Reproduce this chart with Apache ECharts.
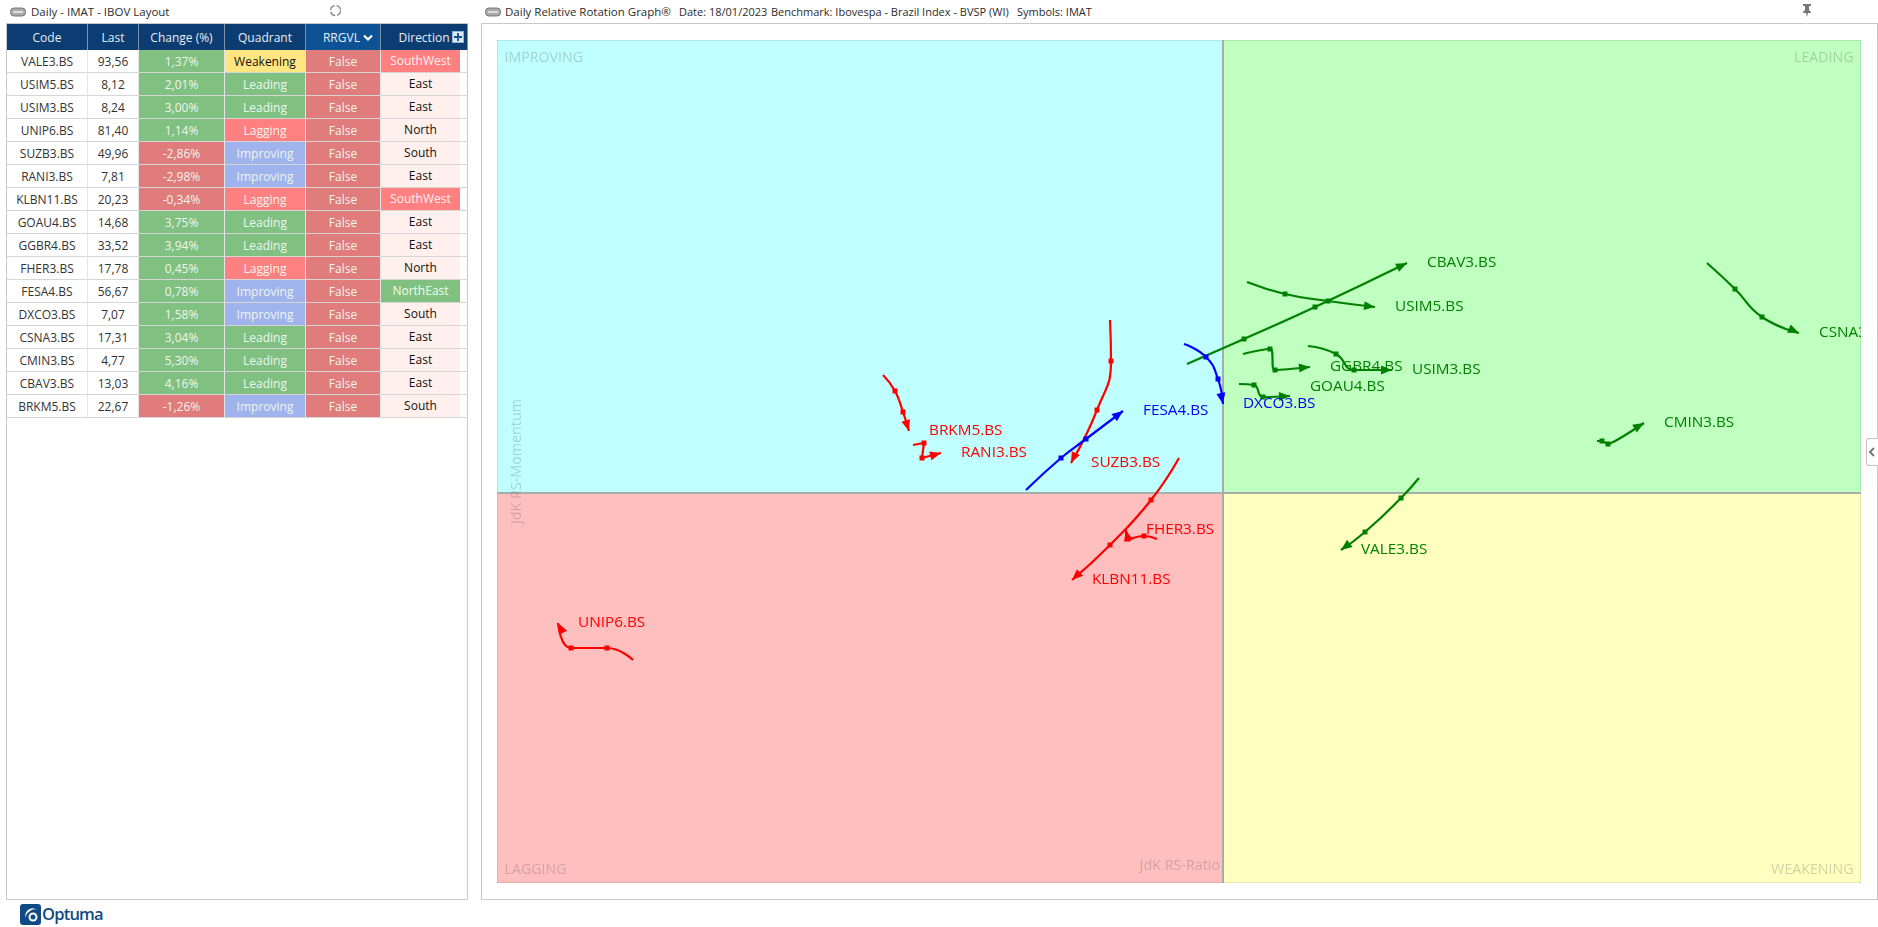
<!DOCTYPE html>
<html>
<head>
<meta charset="utf-8">
<title>Daily Relative Rotation Graph</title>
<script src="https://cdn.jsdelivr.net/npm/echarts@6/dist/echarts.min.js"></script>
<style>
  html, body { margin: 0; padding: 0; background: #fff; width: 1878px; height: 927px; overflow: hidden; font-family: "Open Sans", sans-serif; color: #333; }
  .abs { position: absolute; }
  .title { font-size: 11.5px; line-height: 16px; white-space: pre; color: #2b2b2b; }
  .title.small { font-size: 11px; }
  .panel { border: 1px solid #c9c9c9; box-sizing: border-box; }
  #table { position: absolute; left: 7px; top: 24px; width: 461px; border-collapse: separate; border-spacing: 0; table-layout: fixed; font-size: 12px; }
  #table th { background: #0b3d73; color: #e8eef5; font-weight: 400; height: 26px; padding: 0; border-right: 1px solid #7f93aa; box-sizing: border-box; }
  #table th.sorted { background: #0c5294; padding-left: 10px; }
  #table td { height: 23px; padding: 0; text-align: center; box-sizing: border-box; border-bottom: 1px solid #d5d5d5; border-right: 1px solid #e4e4e4; color: #333; }
  #table td.fill { color: #eef6ee; }
  #table td.dark { color: #111; }
  .dirbox { display: block; width: 79px; height: 22px; line-height: 22px; }
  #chart { position: absolute; left: 497px; top: 40px; width: 1364px; height: 843px; }
</style>
</head>
<body>
<div class="abs panel" style="left:6px;top:23px;width:462px;height:877px"></div>
<div class="abs panel" style="left:481px;top:23px;width:1397px;height:877px"></div>

<svg class="abs" style="left:10px;top:7px" width="16" height="10"><rect x="0.5" y="1" width="15" height="8" rx="3.5" fill="#aaa" stroke="#777"/><line x1="3" y1="5" x2="13" y2="5" stroke="#eee" stroke-width="1.5"/></svg>
<div class="abs title" style="left:31px;top:4px">Daily - IMAT - IBOV Layout</div>
<svg class="abs" style="left:329px;top:4px" width="13" height="13"><circle cx="6.5" cy="6.5" r="5" fill="none" stroke="#888" stroke-width="1.4" stroke-dasharray="6 2"/></svg>

<svg class="abs" style="left:485px;top:7px" width="16" height="10"><rect x="0.5" y="1" width="15" height="8" rx="3.5" fill="#aaa" stroke="#777"/><line x1="3" y1="5" x2="13" y2="5" stroke="#eee" stroke-width="1.5"/></svg>
<div class="abs title" style="left:505px;top:4px">Daily Relative Rotation Graph®</div>
<div class="abs title small" style="left:679px;top:4px">Date: 18/01/2023</div>
<div class="abs title small" style="left:771px;top:4px">Benchmark: Ibovespa - Brazil Index - BVSP (WI)</div>
<div class="abs title small" style="left:1017px;top:4px">Symbols: IMAT</div>
<svg class="abs" style="left:1802px;top:4px" width="10" height="13"><path d="M1 0h8v2H7v4l2 2v1H6l-1 4-1-4H1V8l2-2V2H1z" fill="#777"/></svg>

<table id="table"></table>
<div id="chart"></div>

<div class="abs" style="left:1866px;top:438px;width:12px;height:28px;background:#fff;border:1px solid #c4c4c4;border-right:0;border-radius:3px 0 0 3px;box-sizing:border-box"></div>
<svg class="abs" style="left:1868px;top:447px" width="8" height="10"><path d="M6 1L2 5l4 4" fill="none" stroke="#777" stroke-width="2"/></svg>

<svg class="abs" style="left:20px;top:904px" width="22" height="21"><rect width="21" height="21" rx="3" fill="#0f4a85"/><path d="M6 14a7 7 0 0 1 11-8a6 6 0 0 0-8 2a6 6 0 0 0-3 6z" fill="#fff"/><circle cx="13" cy="13" r="4.5" fill="#fff"/><circle cx="13" cy="13" r="2.5" fill="#0f4a85"/></svg>
<div class="abs" style="left:42px;top:902px;font-size:16.5px;line-height:24px;font-weight:600;letter-spacing:-0.8px;color:#0f4a85">Optuma</div>

<script>
// tabela
const codes = ['VALE3.BS','USIM5.BS','USIM3.BS','UNIP6.BS','SUZB3.BS','RANI3.BS','KLBN11.BS','GOAU4.BS','GGBR4.BS','FHER3.BS','FESA4.BS','DXCO3.BS','CSNA3.BS','CMIN3.BS','CBAV3.BS','BRKM5.BS'];
const lastPrices = ['93,56','8,12','8,24','81,40','49,96','7,81','20,23','14,68','33,52','17,78','56,67','7,07','17,31','4,77','13,03','22,67'];
const changes = ['1,37%','2,01%','3,00%','1,14%','-2,86%','-2,98%','-0,34%','3,75%','3,94%','0,45%','0,78%','1,58%','3,04%','5,30%','4,16%','-1,26%'];
const quadrants = ['Weakening','Leading','Leading','Lagging','Improving','Improving','Lagging','Leading','Leading','Lagging','Improving','Improving','Leading','Leading','Leading','Improving'];
const directions = ['SouthWest','East','East','North','South','East','SouthWest','East','East','North','NorthEast','South','East','East','East','South'];
const headers = ['Code','Last','Change (%)','Quadrant','RRGVL','Direction'];
const colWidths = [81, 51, 86, 81, 75, 87];

// trilhas [JdK RS-Ratio, JdK RS-Momentum]
const trailVALE3 = [[101.96,100.15],[101.78,99.95],[101.42,99.61],[101.18,99.43]];
const trailUSIM5 = [[100.24,102.11],[100.62,101.99],[101.05,101.92],[101.52,101.86]];
const trailUSIM3 = [[100.85,101.47],[101.13,101.39],[101.31,101.23],[101.69,101.23]];
const trailUNIP6 = [[94.10,98.33],[93.84,98.45],[93.48,98.45],[93.35,98.70]];
const trailSUZB3 = [[98.87,101.73],[98.88,101.32],[98.74,100.83],[98.48,100.30]];
const trailRANI3 = [[96.90,100.48],[97.01,100.50],[96.99,100.35],[97.18,100.40]];
const trailKLBN11 = [[99.56,100.35],[99.28,99.93],[98.87,99.48],[98.49,99.13]];
const trailGOAU4 = [[100.16,101.09],[100.31,101.08],[100.40,100.96],[100.67,100.97]];
const trailGGBR4 = [[100.20,101.39],[100.47,101.44],[100.52,101.23],[100.87,101.26]];
const trailFHER3 = [[99.34,99.54],[99.21,99.57],[99.05,99.54],[99.03,99.63]];
const trailFESA4 = [[98.03,100.03],[98.38,100.35],[98.63,100.54],[99.00,100.82]];
const trailDXCO3 = [[99.61,101.49],[99.83,101.36],[99.95,101.14],[100.00,100.89]];
const trailCSNA3 = [[104.84,102.30],[105.12,102.04],[105.39,101.76],[105.76,101.60]];
const trailCMIN3 = [[103.74,100.52],[103.79,100.52],[103.85,100.49],[104.21,100.70]];
const trailCBAV3 = [[99.64,101.29],[100.21,101.54],[100.92,101.86],[101.84,102.30]];
const trailBRKM5 = [[96.60,101.18],[96.72,101.02],[96.80,100.81],[96.86,100.62]];
const trails = [trailVALE3,trailUSIM5,trailUSIM3,trailUNIP6,trailSUZB3,trailRANI3,trailKLBN11,trailGOAU4,trailGGBR4,trailFHER3,trailFESA4,trailDXCO3,trailCSNA3,trailCMIN3,trailCBAV3,trailBRKM5];

const xMin = 92.74, xMax = 106.38, yMin = 96.10, yMax = 104.53, center = 100;
const quadFill = { Leading:'#80c080', Lagging:'#ff8080', Improving:'#9fb3ec', Weakening:'#ffe680' };

// cor da linha no grafico nem sempre bate com o quadrante da tabela
const trailColors = ['#008000','#008000','#008000','#ff0000','#ff0000','#ff0000','#ff0000','#008000','#008000','#ff0000','#0000ff','#0000ff','#008000','#008000','#008000','#ff0000'];

function buildTable() {
    let html = '<colgroup>' + colWidths.map(w => '<col style="width:' + w + 'px">').join('') + '</colgroup><tr>';
    headers.forEach((h, i) => {
        let extra = '';
        if (h === 'RRGVL') extra = ' <svg width="10" height="8"><path d="M1 1.5l4 4 4-4" fill="none" stroke="#fff" stroke-width="2.2"/></svg>';
        if (h === 'Direction') extra = '<svg width="12" height="12" style="position:absolute;right:3px;top:7px"><rect x=".5" y=".5" width="11" height="11" fill="#dfe9f5" stroke="#8fb3dd"/><path d="M6 2v8M2 6h8" stroke="#0c5294" stroke-width="1.8"/></svg>';
        html += '<th class="' + (h === 'RRGVL' ? 'sorted' : '') + '" style="position:relative">' + h + extra + '</th>';
    });
    html += '</tr>';
    codes.forEach((code, i) => {
        const neg = changes[i].startsWith('-');
        const q = quadrants[i];
        const d = directions[i];
        let dirBg = '#fff0ee', dirCol = '#111';
        if (d === 'SouthWest') { dirBg = '#ff8080'; dirCol = '#fff0f0'; }
        if (d === 'NorthEast') { dirBg = '#80c080'; dirCol = '#f0fff0'; }
        html += '<tr><td>' + code + '</td><td>' + lastPrices[i] + '</td>'
            + '<td class="fill" style="background:' + (neg ? '#e07c7c' : '#80c080') + '">' + changes[i] + '</td>'
            + '<td class="' + (q === 'Weakening' ? 'dark' : 'fill') + '" style="background:' + quadFill[q] + '">' + q + '</td>'
            + '<td class="fill" style="background:#e07c7c">False</td>'
            + '<td style="border-right:0"><span class="dirbox" style="background:' + dirBg + ';color:' + dirCol + '">' + d + '</span></td></tr>';
    });
    document.getElementById('table').innerHTML = html;
}
buildTable();

function trailSeries(code, trail, color) {
    const last = trail.length - 1;
    const dx = trail[last][0] - trail[last - 1][0];
    const dy = trail[last][1] - trail[last - 1][1];
    const len = Math.hypot(dx, dy);
    const arrowLen = 11;
    const data = trail.map((p, i) => {
        if (i === 0) return { value: p, symbol: 'none' };
        if (i === last) return {
            value: p,
            symbol: 'triangle',
            symbolSize: [9, arrowLen],
            symbolRotate: Math.atan2(-dx, dy) * 180 / Math.PI,
            symbolOffset: [-dx / len * arrowLen / 2, dy / len * arrowLen / 2]
        };
        return { value: p, symbol: 'rect', symbolSize: 5 };
    });
    return {
        type: 'line',
        name: code,
        data: data,
        // CMIN3 quase reto depois do ponto
        smooth: code === 'CMIN3.BS' ? 0.12 : 0.5,
        showSymbol: true,
        itemStyle: { color: color },
        lineStyle: { color: color, width: 2.2 },
        endLabel: {
            show: true,
            formatter: code,
            color: color,
            fontFamily: 'Open Sans',
            fontSize: 15.3,
            distance: 20,
            // GOAU4 fica acima da seta na referencia
            offset: code === 'GOAU4.BS' ? [0, -9] : [0, 0]
        },
        z: 5
    };
}

const backgroundSeries = {
    type: 'line',
    data: [],
    markArea: {
        silent: true,
        data: [
            [{ coord: [xMin, center], itemStyle: { color: '#bfffff' }, label: { show: true, position: 'insideTopLeft', formatter: 'IMPROVING', distance: 8, offset: [0, 3.5] } }, { coord: [center, yMax] }],
            [{ coord: [center, center], itemStyle: { color: '#bfffbf' }, label: { show: true, position: 'insideTopRight', formatter: 'LEADING', distance: 8, offset: [0, 3.5] } }, { coord: [xMax, yMax] }],
            [{ coord: [xMin, yMin], itemStyle: { color: '#ffbfbf' }, label: { show: true, position: 'insideBottomLeft', formatter: 'LAGGING', distance: 8, offset: [0, 1.5] } }, { coord: [center, center] }],
            [{ coord: [center, yMin], itemStyle: { color: '#ffffbf' }, label: { show: true, position: 'insideBottomRight', formatter: 'WEAKENING', distance: 8, offset: [0, 1.5] } }, { coord: [xMax, center] }]
        ],
        itemStyle: { borderColor: 'rgba(0,0,0,0.18)', borderWidth: 1 },
        label: { color: 'rgba(90,90,90,0.28)', fontFamily: 'Open Sans', fontSize: 14.2 }
    },
    markLine: {
        silent: true,
        symbol: 'none',
        label: { show: false },
        lineStyle: { color: '#a8acac', width: 2, type: 'solid' },
        data: [{ xAxis: center }, { yAxis: center }]
    },
    z: 1
};

const chart = echarts.init(document.getElementById('chart'));
chart.setOption({
    animation: false,
    grid: { left: 0, right: 0, top: 0, bottom: 0 },
    xAxis: { type: 'value', min: xMin, max: xMax, show: false },
    yAxis: { type: 'value', min: yMin, max: yMax, show: false },
    graphic: [
        { type: 'text', right: 641, top: 819, z: 10, style: { text: 'JdK RS-Ratio', fill: 'rgba(90,90,90,0.28)', font: '14.3px "Open Sans"' } },
        { type: 'text', x: 13, y: 484, rotation: Math.PI / 2, z: 10, style: { text: 'JdK RS-Momentum', fill: 'rgba(90,90,90,0.28)', font: '14.3px "Open Sans"' } }
    ],
    series: [backgroundSeries].concat(codes.map((code, i) => trailSeries(code, trails[i], trailColors[i])))
});
</script>
</body>
</html>
